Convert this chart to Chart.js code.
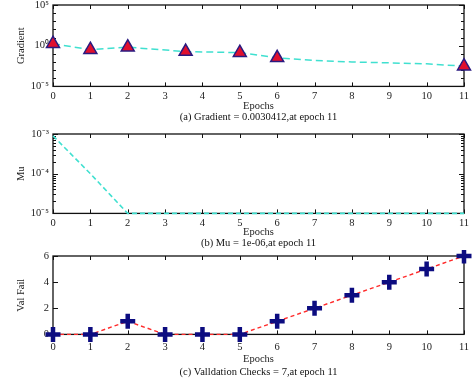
<!DOCTYPE html>
<html><head><meta charset="utf-8">
<script src="https://cdn.jsdelivr.net/npm/chart.js@4/dist/chart.umd.min.js"></script>
<style>
body{margin:0;background:#fff;width:474px;height:380px;position:relative;overflow:hidden}
canvas{position:absolute;left:0}
</style></head><body>
<canvas id="c1" width="474" height="125" style="top:0"></canvas>
<canvas id="c2" width="474" height="125" style="top:125px"></canvas>
<canvas id="c3" width="474" height="130" style="top:250px"></canvas>
<script>
// ---- data ----
const epochs = [0,1,2,3,4,5,6,7,8,9,10,11];
const gradEpochs = [0,1,2,3.55,5,6,7,8,9,10,11];
const gradValues = [1.75,0.32,0.66,0.19,0.14,0.032,0.015,0.010,0.0078,0.0059,0.0030412];
const gradMarked = [1,1,1,1,1,1,0,0,0,0,1];
const muValues = [0.0009,0.0001,0.00001,0.00001,0.00001,0.00001,0.00001,0.00001,0.00001,0.00001,0.00001,0.00001];
const valFail = [0,0,1,0,0,0,1,2,3,4,5,6];
const gradTickValues = [1e-5,1e-4,1e-3,1e-2,1e-1,1,1e1,1e2,1e3,1e4,1e5];
const gradLabelValues = [1e-5,1,1e5];
const gradTickLabels = ['10\u207B\u2075','10\u2070','10\u2075'];
const muTickValues = [1e-5,2e-5,3e-5,4e-5,5e-5,6e-5,7e-5,8e-5,9e-5,1e-4,2e-4,3e-4,4e-4,5e-4,6e-4,7e-4,8e-4,9e-4,1e-3];
const muLabelValues = [1e-5,1e-4,1e-3];
const muTickLabels = ['10\u207B\u2075','10\u207B\u2074','10\u207B\u00B3'];
const valTickValues = [0,2,4,6];
const captions = ['(a) Gradient = 0.0030412,at epoch 11','(b) Mu = 1e-06,at epoch 11','(c) Valldation Checks = 7,at epoch 11'];
const yTitles = ['Gradient','Mu','Val Fail'];

const F = "'Liberation Serif', 'Times New Roman', serif";
const TXT = '#222';
const FS = 10.5;

const inTicks = {
  id: 'inTicks',
  beforeDatasetsDraw(chart) {
    const {ctx, chartArea: a, scales: {x, y}} = chart;
    ctx.save();
    ctx.strokeStyle = '#111';
    ctx.lineWidth = 1.3;
    ctx.strokeRect(a.left, a.top, a.right - a.left, a.bottom - a.top);
    ctx.lineWidth = 1;
    ctx.beginPath();
    x.ticks.forEach(t => {
      const px = Math.round(x.getPixelForValue(t.value)) + 0.5;
      ctx.moveTo(px, a.bottom); ctx.lineTo(px, a.bottom - 4);
      ctx.moveTo(px, a.top); ctx.lineTo(px, a.top + 4);
    });
    y.ticks.forEach(t => {
      const py = Math.round(y.getPixelForValue(t.value)) + 0.5;
      const len = (t.label === '' ) ? 3 : 5;
      ctx.moveTo(a.left, py); ctx.lineTo(a.left + len, py);
      ctx.moveTo(a.right, py); ctx.lineTo(a.right - len, py);
    });
    ctx.stroke();
    ctx.restore();
  }
};

function makePanel(id, cfg) {
  const yScale = {
    type: cfg.yType, min: cfg.yMin, max: cfg.yMax,
    grid: {display: false, drawTicks: false}, border: {display: false},
    ticks: {
      font: {family: F, size: FS}, color: TXT, padding: 4, autoSkip: false,
      callback: cfg.yCallback
    },
    title: {display: true, text: cfg.yTitle, color: TXT, font: {family: F, size: FS, lineHeight: 1.2}, padding: {top: 15, bottom: 0}},
    afterBuildTicks: s => { s.ticks = cfg.yTicks.map(v => ({value: v})); },
    afterFit: s => { s.width = 53; s.paddingTop = 0; s.paddingBottom = 0; }
  };
  return new Chart(document.getElementById(id), {
    type: 'line',
    data: {datasets: cfg.datasets},
    options: {
      responsive: false, animation: false,
      layout: {autoPadding: false, padding: {top: cfg.top, right: 10, left: 0, bottom: 0}},
      plugins: {
        legend: {display: false}, tooltip: {enabled: false},
        title: {display: true, text: cfg.caption, position: 'bottom', fullSize: false, color: '#111',
          font: {family: F, size: FS, weight: 'normal', lineHeight: 1.2}, padding: {top: 0, bottom: cfg.capPadB}}
      },
      scales: {
        x: {
          type: 'linear', min: 0, max: 11,
          grid: {display: false, drawTicks: false}, border: {display: false},
          ticks: {stepSize: 1, padding: cfg.xPad, font: {family: F, size: FS}, color: TXT, maxRotation: 0, autoSkip: false},
          title: {display: true, text: 'Epochs', color: TXT, font: {family: F, size: FS, lineHeight: 1}, padding: {top: 0, bottom: cfg.epPadB}},
          afterFit: s => { s.height = cfg.xH; s.paddingLeft = 0; s.paddingRight = 0; }
        },
        y: yScale
      }
    },
    plugins: [inTicks]
  });
}

function labelFrom(vals, labels) {
  return v => { const i = vals.findIndex(u => Math.abs(u - v) <= u * 1e-9); return i >= 0 ? labels[i] : ''; };
}

const CYAN = 'rgb(64,224,208)';

makePanel('c1', {
  top: 5, xH: 25, xPad: 4, epPadB: 0, capPadB: 1,
  yType: 'logarithmic', yMin: 1e-5, yMax: 1e5, yTicks: gradTickValues,
  yCallback: labelFrom(gradLabelValues, gradTickLabels),
  yTitle: yTitles[0], caption: captions[0],
  datasets: [{
    data: gradEpochs.map((e, i) => ({x: e, y: gradValues[i]})),
    borderColor: CYAN, borderWidth: 1.5, borderDash: [7, 4], tension: 0,
    pointStyle: 'triangle', pointRadius: gradMarked.map(m => m ? 7.5 : 0),
    pointBackgroundColor: '#e0102e', pointBorderColor: '#2a1a80', pointBorderWidth: 1.5,
    clip: false
  }]
});

makePanel('c2', {
  top: 9, xH: 24, xPad: 4, epPadB: 0, capPadB: 0,
  yType: 'logarithmic', yMin: 1e-5, yMax: 1e-3, yTicks: muTickValues,
  yCallback: labelFrom(muLabelValues, muTickLabels),
  yTitle: yTitles[1], caption: captions[1],
  datasets: [{
    data: epochs.map((e, i) => ({x: e, y: muValues[i]})),
    borderColor: CYAN, borderWidth: 1.6, borderDash: [5, 3], tension: 0,
    pointRadius: 0, clip: false
  }]
});

makePanel('c3', {
  top: 6, xH: 32, xPad: 7, epPadB: 2, capPadB: 1,
  yType: 'linear', yMin: 0, yMax: 6, yTicks: valTickValues,
  yCallback: v => String(v),
  yTitle: yTitles[2], caption: captions[2],
  datasets: [{
    data: epochs.map((e, i) => ({x: e, y: valFail[i]})),
    borderColor: '#ff2a2a', borderWidth: 1.4, borderDash: [4, 3], tension: 0,
    pointStyle: 'cross', pointRadius: 7.5, pointBorderWidth: 4.5,
    pointBorderColor: '#0c0c80', pointBackgroundColor: '#0c0c80',
    clip: false
  }]
});
</script>
</body></html>
